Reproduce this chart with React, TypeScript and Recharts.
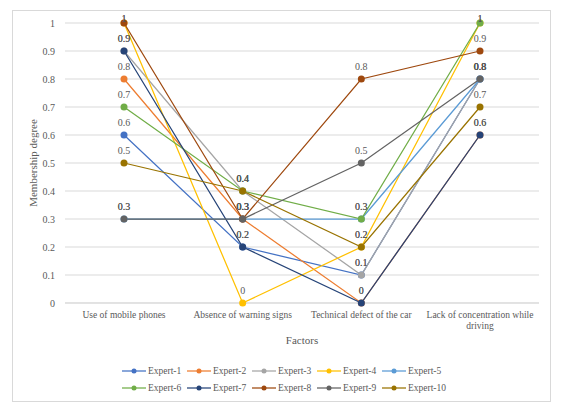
import { CartesianGrid, LabelList, Legend, Line, LineChart, XAxis, YAxis } from "recharts";

const FONT = "Liberation Serif, Times New Roman, serif";
const TEXT = "#595959";

const categories = [
  "Use of mobile phones",
  "Absence of warning signs",
  "Technical defect of the car",
  "Lack of concentration while driving",
];

const expert1 = [0.6, 0.2, 0.1, 0.8];
const expert2 = [0.8, 0.3, 0, 0.6];
const expert3 = [0.9, 0.4, 0.1, 0.8];
const expert4 = [1, 0, 0.2, 1];
const expert5 = [0.3, 0.3, 0.3, 0.8];
const expert6 = [0.7, 0.4, 0.3, 1];
const expert7 = [0.9, 0.2, 0, 0.6];
const expert8 = [1, 0.3, 0.8, 0.9];
const expert9 = [0.3, 0.3, 0.5, 0.8];
const expert10 = [0.5, 0.4, 0.2, 0.7];

const yTicks = [0, 0.1, 0.2, 0.3, 0.4, 0.5, 0.6, 0.7, 0.8, 0.9, 1];

const series = [
  { key: "Expert-1", values: expert1, color: "#4472C4" },
  { key: "Expert-2", values: expert2, color: "#ED7D31" },
  { key: "Expert-3", values: expert3, color: "#A5A5A5" },
  { key: "Expert-4", values: expert4, color: "#FFC000" },
  { key: "Expert-5", values: expert5, color: "#5B9BD5" },
  { key: "Expert-6", values: expert6, color: "#70AD47" },
  { key: "Expert-7", values: expert7, color: "#264478" },
  { key: "Expert-8", values: expert8, color: "#9E480E" },
  { key: "Expert-9", values: expert9, color: "#636363" },
  { key: "Expert-10", values: expert10, color: "#997300" },
];

const data = categories.map((name, i) => {
  const row: Record<string, string | number> = { name };
  series.forEach((s) => {
    row[s.key] = s.values[i];
  });
  return row;
});

let ctx: CanvasRenderingContext2D | null = null;

// greedy word wrap, measured with a canvas so it uses the real font
function wrapWords(text: string, maxWidth: number, font: string): string[] {
  if (!ctx) ctx = document.createElement("canvas").getContext("2d");
  if (!ctx) return [text];
  ctx.font = font;
  const lines: string[] = [];
  let line = "";
  for (const word of text.split(" ")) {
    const next = line ? `${line} ${word}` : word;
    if (line && ctx.measureText(next).width > maxWidth) {
      lines.push(line);
      line = word;
    } else {
      line = next;
    }
  }
  if (line) lines.push(line);
  return lines;
}

// labels sit above the marker, but never above the top of the plot (like Excel does)
function PointLabel(props: any) {
  const { x, y, value } = props;
  if (x == null || y == null) return null;
  const cy = Math.max(y - 13, 10);
  return (
    <text x={x} y={cy + 3.5} textAnchor="middle" fontSize={10} fill={TEXT} fontFamily={FONT}>
      {value}
    </text>
  );
}

function CategoryTick(props: any) {
  const { x, y, payload } = props;
  const lines = wrapWords(String(payload.value), 112, `9.5px ${FONT}`);
  return (
    <text x={x} y={y} textAnchor="middle" fontSize={9.5} fill={TEXT} fontFamily={FONT}>
      {lines.map((l, i) => (
        <tspan key={i} x={x} dy={i === 0 ? 7 : 11}>
          {l}
        </tspan>
      ))}
    </text>
  );
}

function ExpertLegend() {
  return (
    <div
      style={{
        height: 36,
        paddingLeft: 114,
        display: "grid",
        gridTemplateColumns: "repeat(5, 65px)",
        gridAutoRows: "17px",
        fontFamily: FONT,
        fontSize: 9.5,
        color: TEXT,
      }}
    >
      {series.map((s) => (
        <div key={s.key} style={{ display: "flex", alignItems: "center", whiteSpace: "nowrap" }}>
          <svg width={26} height={10}>
            <line x1={0} y1={5} x2={24} y2={5} stroke={s.color} strokeWidth={1.25} />
            <circle cx={12} cy={5} r={2.5} fill={s.color} />
          </svg>
          <span>{s.key}</span>
        </div>
      ))}
    </div>
  );
}

export default function App() {
  return (
    <div style={{ position: "relative", width: 548, height: 394, background: "#fff" }}>
      <div
        style={{
          position: "absolute",
          left: 4,
          top: 2,
          width: 539,
          height: 392,
          border: "1px solid #D9D9D9",
          boxSizing: "border-box",
        }}
      />
      <LineChart
        width={548}
        height={394}
        data={data}
        margin={{ top: 15, right: 17, left: 0, bottom: 17 }}
        style={{ position: "absolute", left: 0, top: 0 }}
      >
        <CartesianGrid vertical={false} stroke="#D9D9D9" />
        <XAxis
          dataKey="name"
          height={46}
          padding={{ left: 59, right: 59 }}
          tickLine={false}
          axisLine={{ stroke: "#D9D9D9" }}
          tick={<CategoryTick />}
          interval={0}
          label={{
            value: "Factors",
            position: "insideBottom",
            offset: 5,
            fontSize: 11,
            fill: TEXT,
            fontFamily: FONT,
          }}
        />
        <YAxis
          width={57}
          domain={[0, 1]}
          ticks={yTicks}
          tickLine={false}
          axisLine={false}
          tickMargin={4}
          tick={{ fontSize: 10, fill: TEXT, fontFamily: FONT }}
          label={{
            value: "Membership degree",
            angle: -90,
            position: "insideLeft",
            offset: 25,
            fontSize: 11,
            fill: TEXT,
            fontFamily: FONT,
            style: { textAnchor: "middle" },
          }}
        />
        <Legend
          verticalAlign="bottom"
          content={<ExpertLegend />}
          wrapperStyle={{ left: 0, width: 548, bottom: 4 }}
        />
        {series.map((s) => (
          <Line
            key={s.key}
            type="linear"
            dataKey={s.key}
            stroke={s.color}
            strokeWidth={1.25}
            dot={{ r: 3.5, fill: s.color, stroke: s.color, strokeWidth: 0 }}
            activeDot={false}
            isAnimationActive={false}
          >
            <LabelList dataKey={s.key} content={<PointLabel />} />
          </Line>
        ))}
      </LineChart>
    </div>
  );
}
